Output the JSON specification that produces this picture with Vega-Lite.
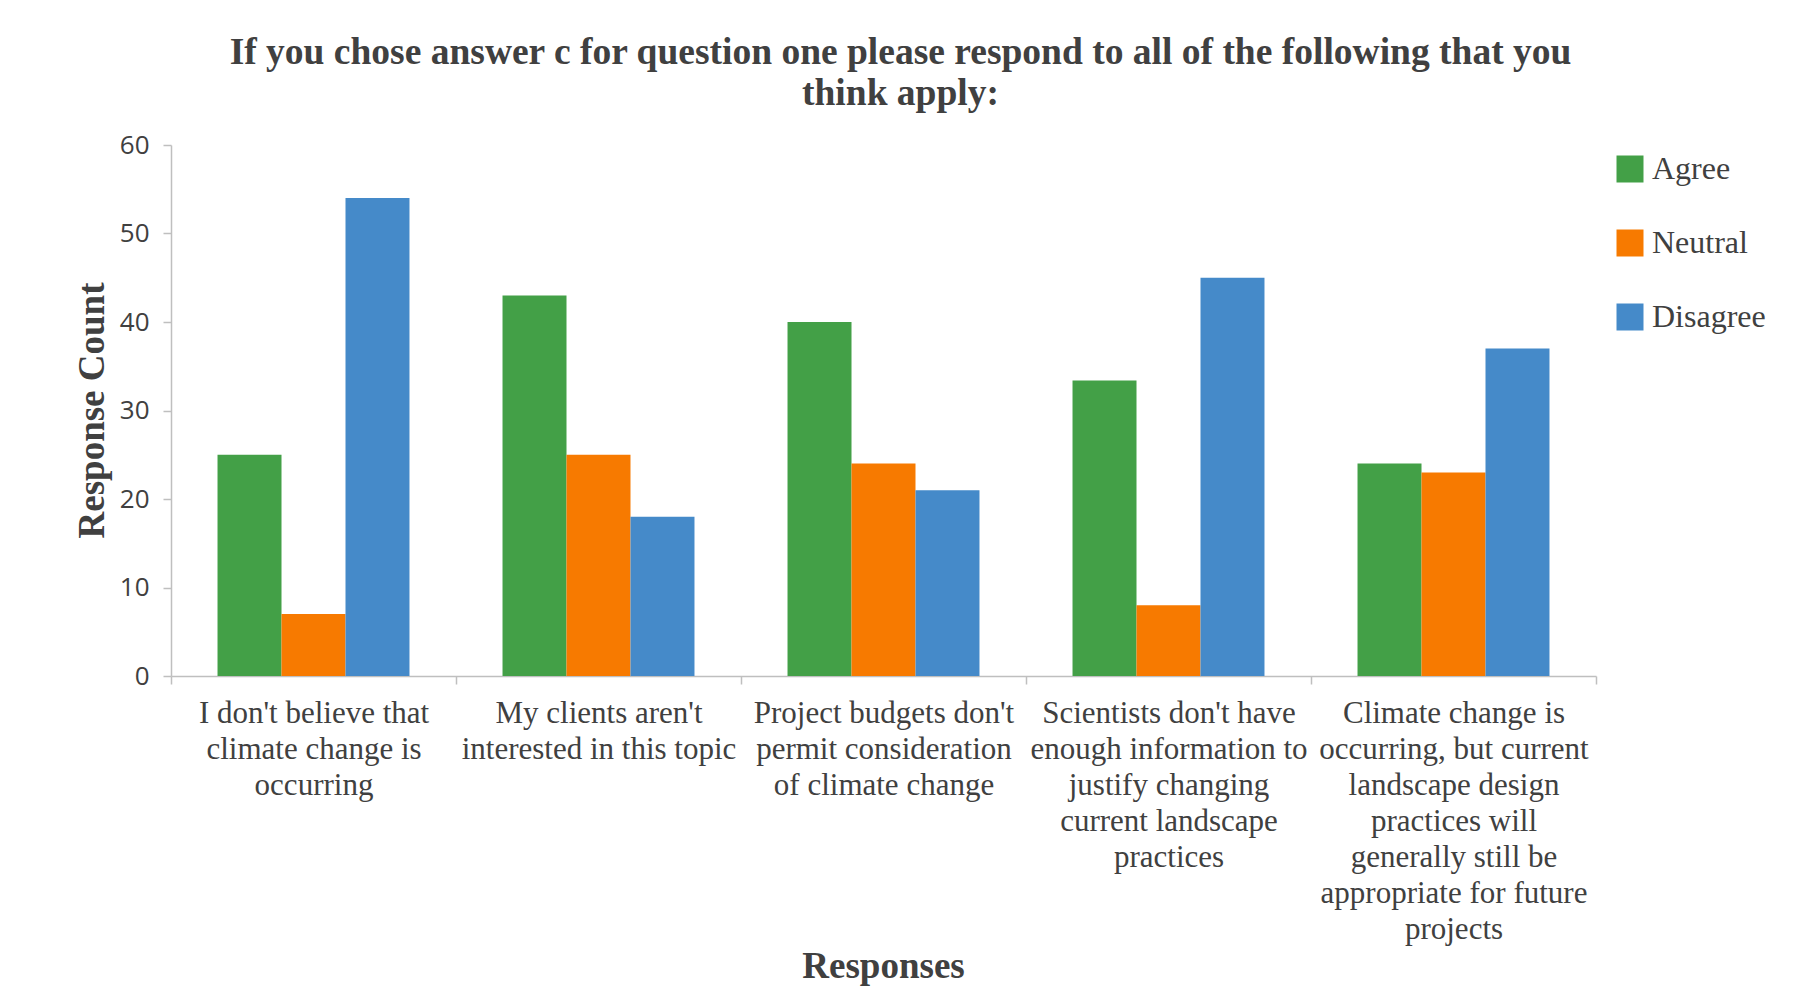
{
  "$schema": "https://vega.github.io/schema/vega-lite/v6.json",
  "autosize": {"type": "none"},
  "padding": {"left": 171, "top": 145, "right": 204, "bottom": 315},
  "width": 1425,
  "height": 531,
  "background": "white",
  "title": {
    "text": ["If you chose answer c for question one please respond to all of the following that you", "think apply:"],
    "font": "Liberation Serif",
    "fontSize": 37.5,
    "fontWeight": "bold",
    "color": "#404040",
    "lineHeight": 41,
    "anchor": "middle",
    "frame": "group",
    "dx": 17,
    "offset": 20
  },
  "data": {
    "values": [
      {"response": "I don't believe that|climate change is|occurring", "answer": "Agree", "count": 25},
      {"response": "I don't believe that|climate change is|occurring", "answer": "Neutral", "count": 7},
      {"response": "I don't believe that|climate change is|occurring", "answer": "Disagree", "count": 54},
      {"response": "My clients aren't|interested in this topic", "answer": "Agree", "count": 43},
      {"response": "My clients aren't|interested in this topic", "answer": "Neutral", "count": 25},
      {"response": "My clients aren't|interested in this topic", "answer": "Disagree", "count": 18},
      {"response": "Project budgets don't|permit consideration|of climate change", "answer": "Agree", "count": 40},
      {"response": "Project budgets don't|permit consideration|of climate change", "answer": "Neutral", "count": 24},
      {"response": "Project budgets don't|permit consideration|of climate change", "answer": "Disagree", "count": 21},
      {"response": "Scientists don't have|enough information to|justify changing|current landscape|practices", "answer": "Agree", "count": 33.4},
      {"response": "Scientists don't have|enough information to|justify changing|current landscape|practices", "answer": "Neutral", "count": 8},
      {"response": "Scientists don't have|enough information to|justify changing|current landscape|practices", "answer": "Disagree", "count": 45},
      {"response": "Climate change is|occurring, but current|landscape design|practices will|generally still be|appropriate for future|projects", "answer": "Agree", "count": 24},
      {"response": "Climate change is|occurring, but current|landscape design|practices will|generally still be|appropriate for future|projects", "answer": "Neutral", "count": 23},
      {"response": "Climate change is|occurring, but current|landscape design|practices will|generally still be|appropriate for future|projects", "answer": "Disagree", "count": 37}
    ]
  },
  "mark": {"type": "bar"},
  "encoding": {
    "x": {
      "field": "response",
      "type": "nominal",
      "sort": null,
      "scale": {"paddingInner": 0, "paddingOuter": 0},
      "axis": {
        "title": "Responses",
        "titleFont": "Liberation Serif",
        "titleFontSize": 37,
        "titleFontWeight": "bold",
        "titleColor": "#404040",
        "titleX": 712,
        "titleY": 290,
        "titleBaseline": "middle",
        "titleAlign": "center",
        "labelExpr": "split(datum.label, '|')",
        "labelFont": "Liberation Serif",
        "labelFontSize": 31,
        "labelLineHeight": 36,
        "labelColor": "#404040",
        "labelAngle": 0,
        "labelLimit": 500,
        "labelOverlap": false,
        "labelBound": false,
        "labelPadding": 14,
        "labelBaseline": "top",
        "tickBand": "extent",
        "tickColor": "#bfbfbf",
        "tickSize": 8,
        "tickWidth": 1.5,
        "domainColor": "#bfbfbf",
        "domainWidth": 1.5
      }
    },
    "xOffset": {
      "field": "answer",
      "type": "nominal",
      "sort": ["Agree", "Neutral", "Disagree"],
      "scale": {"paddingInner": 0, "paddingOuter": 0.727}
    },
    "y": {
      "field": "count",
      "type": "quantitative",
      "scale": {"domain": [0, 60], "nice": false},
      "axis": {
        "title": "Response Count",
        "titleFont": "Liberation Serif",
        "titleFontSize": 37,
        "titleFontWeight": "bold",
        "titleColor": "#404040",
        "titleX": -79,
        "titleY": 265,
        "titleBaseline": "middle",
        "titleAlign": "center",
        "titleAngle": -90,
        "values": [0, 10, 20, 30, 40, 50, 60],
        "grid": false,
        "labelFont": "Open Sans",
        "labelFontSize": 26,
        "labelColor": "#404040",
        "labelPadding": 14,
        "tickColor": "#bfbfbf",
        "tickSize": 8,
        "tickWidth": 1.5,
        "domainColor": "#bfbfbf",
        "domainWidth": 1.5
      }
    },
    "color": {
      "field": "answer",
      "type": "nominal",
      "sort": ["Agree", "Neutral", "Disagree"],
      "scale": {"domain": ["Agree", "Neutral", "Disagree"], "range": ["#43A047", "#F77A00", "#458AC9"]},
      "legend": {
        "title": null,
        "orient": "none",
        "legendX": 1443,
        "legendY": 8,
        "symbolType": "square",
        "symbolSize": 729,
        "symbolStrokeWidth": 0,
        "symbolOpacity": 1,
        "labelFont": "Liberation Serif",
        "labelFontSize": 32,
        "labelColor": "#404040",
        "labelOffset": 6,
        "rowPadding": 42,
        "labelLimit": 300
      }
    }
  },
  "config": {
    "view": {"stroke": null}
  }
}
